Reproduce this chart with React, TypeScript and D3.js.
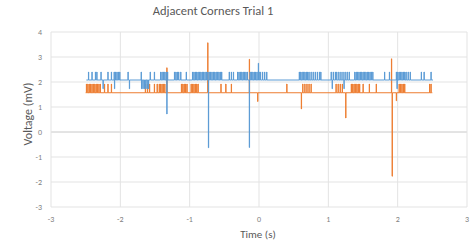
import React from "react";
import * as d3 from "d3";

const title = "Adjacent Corners Trial 1";
const xTicks = [-3, -2, -1, 0, 1, 2, 3];
const yTicks = [-3, -2, -1, 0, 1, 2, 3, 4];

const blueBase = 2.08;
const blueUp = 2.4;
const blueDown = 1.73;
const blueRange = [-2.49, 2.51];
const blueUpTimes = [
  -2.46, -2.41, -2.36, -2.34, -2.28, -2.18, -2.13, -2.09, -2.07, -2.05, -2.03, -2.01,
  -1.89, -1.7, -1.57, -1.51, -1.42, -1.4, -1.38, -1.36, -1.34, -1.32,
  -1.22, -1.2, -1.18, -1.16, -1.13, -1.05,
  -0.96, -0.94, -0.92, -0.9, -0.88, -0.86, -0.84, -0.82, -0.8, -0.78, -0.76, -0.74, -0.72,
  -0.7, -0.68, -0.66, -0.64, -0.62, -0.6, -0.58, -0.56, -0.54,
  -0.43, -0.4, -0.37, -0.31, -0.29, -0.27, -0.25, -0.23, -0.21, -0.19, -0.17,
  -0.13, -0.11, -0.09, -0.07, -0.05, -0.03, 0.0, 0.02, 0.05, 0.08, 0.11,
  0.58, 0.6, 0.62, 0.64, 0.66, 0.68, 0.7, 0.72, 0.75, 0.78, 0.81, 0.84, 0.87, 0.89,
  1.04, 1.07, 1.1, 1.12, 1.15, 1.18, 1.21, 1.24, 1.27, 1.3,
  1.38, 1.4, 1.42, 1.44, 1.46, 1.48, 1.5, 1.52, 1.54, 1.56, 1.58, 1.6, 1.62, 1.64,
  1.81, 1.88, 1.98, 2.0, 2.02, 2.04, 2.06, 2.08, 2.1, 2.12, 2.15, 2.18, 2.34, 2.38, 2.48,
];
const blueDownTimes = [-2.25, -2.085, -1.87, -1.695, -1.675, -1.655, -1.635, -1.615, -1.595, 1.055, 1.225, 1.99];
const blueBigTimes = [-1.33, -0.73, -0.14, -0.01];
const blueBigValues = [0.72, -0.63, -0.62, 2.75];

const orangeBase = 1.57;
const orangeUp = 1.92;
const orangeRange = [-2.5, 2.5];
const orangeUpTimes = [
  -2.49, -2.47, -2.45, -2.43, -2.41, -2.39, -2.37, -2.35, -2.33, -2.31, -2.29,
  -2.23, -2.18, -2.13, -1.64, -1.61, -1.58, -1.51, -1.47, -1.44, -1.42, -1.4, -1.38, -1.36,
  -1.12, -1.1, -1.08, -1.06, -1.04, -0.98, -0.96, -0.94, -0.92, -0.9, -0.88,
  -0.55, -0.48, -0.4, 0.4, 0.63, 0.66, 0.69, 0.72, 0.75,
  1.11, 1.14, 1.17, 1.2, 1.33, 1.35, 1.37, 1.39, 1.41, 1.43, 1.45, 1.5, 1.59, 1.69,
  2.02, 2.04, 2.06, 2.08, 2.1, 2.46, 2.48,
];
const orangeBigTimes = [-1.33, -0.74, -0.14, -0.02, 0.61, 1.25, 1.91, 1.92, 1.98];
const orangeBigValues = [2.57, 3.57, 2.91, 1.22, 0.92, 0.56, 2.93, -1.77, 1.25];

const W = 474;
const H = 252;
const x = d3.scaleLinear().domain([-3, 3]).range([51, 467]);
const y = d3.scaleLinear().domain([-3, 4]).range([207, 32]);

function pulsePath(range: number[], base: number, pulses: [number, number][]) {
  const w = 0.004;
  const sorted = pulses.slice().sort((a, b) => a[0] - b[0]);
  const pts: [number, number][] = [[range[0], base]];
  for (const [t, v] of sorted) {
    pts.push([t, base], [t, v], [t + w, v], [t + w, base]);
  }
  pts.push([range[1], base]);
  const line = d3.line<[number, number]>().x((d) => x(d[0])).y((d) => y(d[1]));
  return line(pts) || "";
}

export default function App() {
  const bluePulses: [number, number][] = [
    ...blueUpTimes.map((t) => [t, blueUp] as [number, number]),
    ...blueDownTimes.map((t) => [t, blueDown] as [number, number]),
    ...blueBigTimes.map((t, i) => [t, blueBigValues[i]] as [number, number]),
  ];
  const orangePulses: [number, number][] = [
    ...orangeUpTimes.map((t) => [t, orangeUp] as [number, number]),
    ...orangeBigTimes.map((t, i) => [t, orangeBigValues[i]] as [number, number]),
  ];
  const font = "Calibri, Carlito, 'Open Sans', 'Liberation Sans', sans-serif";
  return (
    <svg width={W} height={H} style={{ position: "absolute", left: 0, top: 0, background: "#fff" }}>
      <rect width={W} height={H} fill="#fff" />
      <text x={213} y={15} textAnchor="middle" fontFamily={font} fontSize={12.5} fill="#595959">
        {title}
      </text>
      {yTicks.map((v) => (
        <line key={"gy" + v} x1={x(-3)} x2={x(3)} y1={y(v)} y2={y(v)} stroke={v === 0 ? "#c8c8c8" : "#e3e3e3"} strokeWidth={1} />
      ))}
      {xTicks.map((v) => (
        <line key={"gx" + v} x1={x(v)} x2={x(v)} y1={y(4)} y2={y(-3)} stroke="#e3e3e3" strokeWidth={1} />
      ))}
      {yTicks.map((v) => (
        <text key={"ty" + v} x={42} y={y(v) + 3} textAnchor="end" fontFamily={font} fontSize={8} fill="#7f7f7f">
          {v}
        </text>
      ))}
      {xTicks.map((v) => (
        <text key={"tx" + v} x={x(v)} y={222} textAnchor="middle" fontFamily={font} fontSize={8} fill="#7f7f7f">
          {v}
        </text>
      ))}
      <text x={258} y={238} textAnchor="middle" fontFamily={font} fontSize={11} fill="#595959">
        Time (s)
      </text>
      <text transform={`translate(32,114) rotate(-90)`} textAnchor="middle" fontFamily={font} fontSize={12} fill="#595959">
        Voltage (mV)
      </text>
      <path d={pulsePath(orangeRange, orangeBase, orangePulses)} fill="none" stroke="#ED7D31" strokeWidth={1} />
      <path d={pulsePath(blueRange, blueBase, bluePulses)} fill="none" stroke="#5B9BD5" strokeWidth={1} />
    </svg>
  );
}
